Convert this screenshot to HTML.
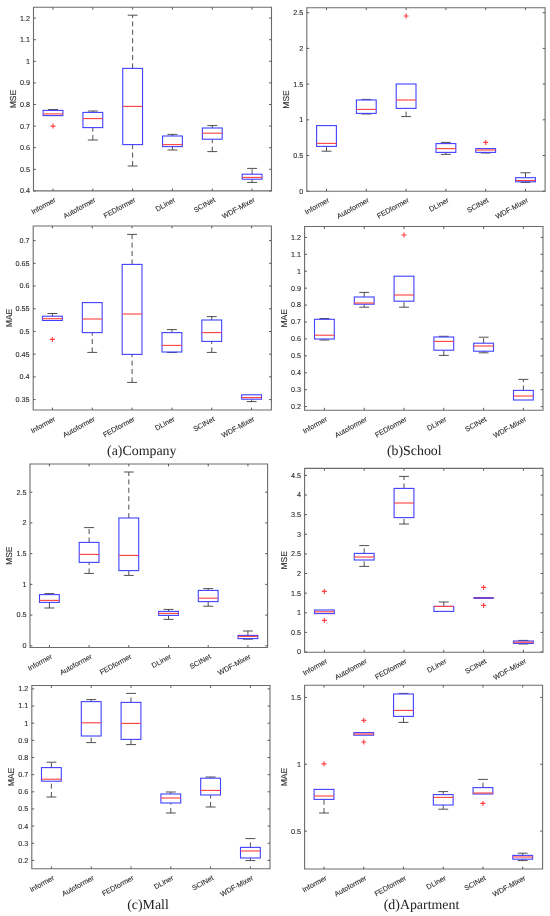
<!DOCTYPE html>
<html><head><meta charset="utf-8"><title>Boxplots</title>
<style>
html,body{margin:0;padding:0;background:#fff;}
body{width:550px;height:916px;overflow:hidden;}
svg{display:block;}
.ax{fill:none;stroke:#6c6c6c;stroke-width:1.1;}
.tk{fill:none;stroke:#5a5a5a;stroke-width:1;}
text{text-rendering:geometricPrecision;font-family:"Liberation Sans",Arial,sans-serif;fill:#2a2a2a;}
.yt{font-size:7.2px;text-anchor:end;stroke:#2a2a2a;stroke-width:0.1px;}
.xt{font-size:7.2px;text-anchor:end;stroke:#2a2a2a;stroke-width:0.1px;}
.yl{font-size:8.5px;text-anchor:middle;stroke:#2a2a2a;stroke-width:0.1px;}
.cap{font-family:"Liberation Serif","Times New Roman",serif;font-size:13.9px;text-anchor:middle;fill:#222;}
.wh{fill:none;stroke:#474747;stroke-width:0.95;stroke-dasharray:5 3.4;}
.cp{fill:none;stroke:#474747;stroke-width:0.95;}
.bx{fill:none;stroke:#4040ff;stroke-width:1.1;}
.md{fill:none;stroke:#ff4040;stroke-width:1.1;}
.ol{fill:none;stroke:#ff4040;stroke-width:1.15;}
</style></head>
<body><svg width="550" height="916" viewBox="0 0 550 916">
<rect width="550" height="916" fill="#fff"/>
<path class="ax" d="M33.5 7.3H271.5V190.9H33.5Z"/>
<path class="tk" d="M53 190.9v-2.4M53 7.3v2.4M92.82 190.9v-2.4M92.82 7.3v2.4M132.64 190.9v-2.4M132.64 7.3v2.4M172.46 190.9v-2.4M172.46 7.3v2.4M212.28 190.9v-2.4M212.28 7.3v2.4M252.1 190.9v-2.4M252.1 7.3v2.4M33.5 190.9h2.4M271.5 190.9h-2.4M33.5 169.3h2.4M271.5 169.3h-2.4M33.5 147.7h2.4M271.5 147.7h-2.4M33.5 126.1h2.4M271.5 126.1h-2.4M33.5 104.5h2.4M271.5 104.5h-2.4M33.5 82.9h2.4M271.5 82.9h-2.4M33.5 61.3h2.4M271.5 61.3h-2.4M33.5 39.7h2.4M271.5 39.7h-2.4M33.5 18.1h2.4M271.5 18.1h-2.4"/>
<text class="yt" x="29.9" y="193.3">0.4</text>
<text class="yt" x="29.9" y="171.7">0.5</text>
<text class="yt" x="29.9" y="150.1">0.6</text>
<text class="yt" x="29.9" y="128.5">0.7</text>
<text class="yt" x="29.9" y="106.9">0.8</text>
<text class="yt" x="29.9" y="85.3">0.9</text>
<text class="yt" x="29.9" y="63.7">1</text>
<text class="yt" x="29.9" y="42.1">1.1</text>
<text class="yt" x="29.9" y="20.5">1.2</text>
<text class="yl" transform="translate(16.1 99.1) rotate(-90)">MSE</text>
<text class="xt" transform="translate(56.4 201.4) rotate(-29)">Informer</text>
<text class="xt" transform="translate(96.22 201.4) rotate(-29)">Autoformer</text>
<text class="xt" transform="translate(136.04 201.4) rotate(-29)">FEDformer</text>
<text class="xt" transform="translate(175.86 201.4) rotate(-29)">DLiner</text>
<text class="xt" transform="translate(215.68 201.4) rotate(-29)">SCINet</text>
<text class="xt" transform="translate(255.5 201.4) rotate(-29)">WDF-Mixer</text>
<path class="wh" d="M53 110.4V109.5"/>
<path class="cp" d="M48.05 109.5h9.9"/>
<rect class="bx" x="43.1" y="110.4" width="19.8" height="5.2"/>
<path class="md" d="M43.1 113.9h19.8"/>
<path class="ol" d="M50.5 126.1h5M53 123.6v5"/>
<path class="wh" d="M92.82 112.4V111"/>
<path class="wh" d="M92.82 140V127.6"/>
<path class="cp" d="M87.87 111h9.9"/>
<path class="cp" d="M87.87 140h9.9"/>
<rect class="bx" x="82.92" y="112.4" width="19.8" height="15.2"/>
<path class="md" d="M82.92 118.6h19.8"/>
<path class="wh" d="M132.64 68.4V15.2"/>
<path class="wh" d="M132.64 166V144.6"/>
<path class="cp" d="M127.69 15.2h9.9"/>
<path class="cp" d="M127.69 166h9.9"/>
<rect class="bx" x="122.74" y="68.4" width="19.8" height="76.2"/>
<path class="md" d="M122.74 106.4h19.8"/>
<path class="wh" d="M172.46 136V134.4"/>
<path class="wh" d="M172.46 150V146.6"/>
<path class="cp" d="M167.51 134.4h9.9"/>
<path class="cp" d="M167.51 150h9.9"/>
<rect class="bx" x="162.56" y="136" width="19.8" height="10.6"/>
<path class="md" d="M162.56 144.6h19.8"/>
<path class="wh" d="M212.28 128V125.6"/>
<path class="wh" d="M212.28 151.6V139.2"/>
<path class="cp" d="M207.33 125.6h9.9"/>
<path class="cp" d="M207.33 151.6h9.9"/>
<rect class="bx" x="202.38" y="128" width="19.8" height="11.2"/>
<path class="md" d="M202.38 133.2h19.8"/>
<path class="wh" d="M252.1 174.2V168.4"/>
<path class="wh" d="M252.1 182.4V179.2"/>
<path class="cp" d="M247.15 168.4h9.9"/>
<path class="cp" d="M247.15 182.4h9.9"/>
<rect class="bx" x="242.2" y="174.2" width="19.8" height="5"/>
<path class="md" d="M242.2 177.4h19.8"/>
<path class="ax" d="M306.8 7.7H545.1V191.2H306.8Z"/>
<path class="tk" d="M326.5 191.2v-2.4M326.5 7.7v2.4M366.3 191.2v-2.4M366.3 7.7v2.4M406.1 191.2v-2.4M406.1 7.7v2.4M445.9 191.2v-2.4M445.9 7.7v2.4M485.7 191.2v-2.4M485.7 7.7v2.4M525.5 191.2v-2.4M525.5 7.7v2.4M306.8 191.2h2.4M545.1 191.2h-2.4M306.8 155.5h2.4M545.1 155.5h-2.4M306.8 119.8h2.4M545.1 119.8h-2.4M306.8 84.1h2.4M545.1 84.1h-2.4M306.8 48.4h2.4M545.1 48.4h-2.4M306.8 12.7h2.4M545.1 12.7h-2.4"/>
<text class="yt" x="303.2" y="193.6">0</text>
<text class="yt" x="303.2" y="157.9">0.5</text>
<text class="yt" x="303.2" y="122.2">1</text>
<text class="yt" x="303.2" y="86.5">1.5</text>
<text class="yt" x="303.2" y="50.8">2</text>
<text class="yt" x="303.2" y="15.1">2.5</text>
<text class="yl" transform="translate(289.4 99.45) rotate(-90)">MSE</text>
<text class="xt" transform="translate(329.9 201.7) rotate(-29)">Informer</text>
<text class="xt" transform="translate(369.7 201.7) rotate(-29)">Autoformer</text>
<text class="xt" transform="translate(409.5 201.7) rotate(-29)">FEDformer</text>
<text class="xt" transform="translate(449.3 201.7) rotate(-29)">DLiner</text>
<text class="xt" transform="translate(489.1 201.7) rotate(-29)">SCINet</text>
<text class="xt" transform="translate(528.9 201.7) rotate(-29)">WDF-Mixer</text>
<path class="wh" d="M326.5 151.2V146.4"/>
<path class="cp" d="M321.55 151.2h9.9"/>
<rect class="bx" x="316.6" y="125.6" width="19.8" height="20.8"/>
<path class="md" d="M316.6 143.4h19.8"/>
<path class="wh" d="M366.3 100V99.4"/>
<path class="wh" d="M366.3 114V113.4"/>
<path class="cp" d="M361.35 99.4h9.9"/>
<path class="cp" d="M361.35 114h9.9"/>
<rect class="bx" x="356.4" y="100" width="19.8" height="13.4"/>
<path class="md" d="M356.4 109.4h19.8"/>
<path class="wh" d="M406.1 116.6V108.4"/>
<path class="cp" d="M401.15 116.6h9.9"/>
<rect class="bx" x="396.2" y="84" width="19.8" height="24.4"/>
<path class="md" d="M396.2 100h19.8"/>
<path class="ol" d="M403.6 16h5M406.1 13.5v5"/>
<path class="wh" d="M445.9 143.6V142.4"/>
<path class="wh" d="M445.9 154.4V152.4"/>
<path class="cp" d="M440.95 142.4h9.9"/>
<path class="cp" d="M440.95 154.4h9.9"/>
<rect class="bx" x="436" y="143.6" width="19.8" height="8.8"/>
<path class="md" d="M436 148.6h19.8"/>
<path class="wh" d="M485.7 153V152.4"/>
<path class="cp" d="M480.75 153h9.9"/>
<rect class="bx" x="475.8" y="148.6" width="19.8" height="3.8"/>
<path class="md" d="M475.8 150h19.8"/>
<path class="ol" d="M483.2 142.4h5M485.7 139.9v5"/>
<path class="wh" d="M525.5 177.7V172.8"/>
<path class="wh" d="M525.5 182.4V181.8"/>
<path class="cp" d="M520.55 172.8h9.9"/>
<path class="cp" d="M520.55 182.4h9.9"/>
<rect class="bx" x="515.6" y="177.7" width="19.8" height="4.1"/>
<path class="md" d="M515.6 180.5h19.8"/>
<path class="ax" d="M33.2 226H271.4V410H33.2Z"/>
<path class="tk" d="M52.4 410v-2.4M52.4 226v2.4M92.24 410v-2.4M92.24 226v2.4M132.08 410v-2.4M132.08 226v2.4M171.92 410v-2.4M171.92 226v2.4M211.76 410v-2.4M211.76 226v2.4M251.6 410v-2.4M251.6 226v2.4M33.2 399.6h2.4M271.4 399.6h-2.4M33.2 376.89h2.4M271.4 376.89h-2.4M33.2 354.17h2.4M271.4 354.17h-2.4M33.2 331.46h2.4M271.4 331.46h-2.4M33.2 308.74h2.4M271.4 308.74h-2.4M33.2 286.03h2.4M271.4 286.03h-2.4M33.2 263.31h2.4M271.4 263.31h-2.4M33.2 240.6h2.4M271.4 240.6h-2.4"/>
<text class="yt" x="29.6" y="402">0.35</text>
<text class="yt" x="29.6" y="379.29">0.4</text>
<text class="yt" x="29.6" y="356.57">0.45</text>
<text class="yt" x="29.6" y="333.86">0.5</text>
<text class="yt" x="29.6" y="311.14">0.55</text>
<text class="yt" x="29.6" y="288.43">0.6</text>
<text class="yt" x="29.6" y="265.71">0.65</text>
<text class="yt" x="29.6" y="243">0.7</text>
<text class="yl" transform="translate(11.7 318) rotate(-90)">MAE</text>
<text class="xt" transform="translate(55.8 420.5) rotate(-29)">Informer</text>
<text class="xt" transform="translate(95.64 420.5) rotate(-29)">Autoformer</text>
<text class="xt" transform="translate(135.48 420.5) rotate(-29)">FEDformer</text>
<text class="xt" transform="translate(175.32 420.5) rotate(-29)">DLiner</text>
<text class="xt" transform="translate(215.16 420.5) rotate(-29)">SCINet</text>
<text class="xt" transform="translate(255 420.5) rotate(-29)">WDF-Mixer</text>
<path class="wh" d="M52.4 316.2V313.5"/>
<path class="cp" d="M47.45 313.5h9.9"/>
<rect class="bx" x="42.5" y="316.2" width="19.8" height="4.3"/>
<path class="md" d="M42.5 318.7h19.8"/>
<path class="ol" d="M49.9 339.4h5M52.4 336.9v5"/>
<path class="wh" d="M92.24 352.4V332.6"/>
<path class="cp" d="M87.29 352.4h9.9"/>
<rect class="bx" x="82.34" y="302.6" width="19.8" height="30"/>
<path class="md" d="M82.34 319h19.8"/>
<path class="wh" d="M132.08 264.4V234.4"/>
<path class="wh" d="M132.08 382.4V354.4"/>
<path class="cp" d="M127.13 234.4h9.9"/>
<path class="cp" d="M127.13 382.4h9.9"/>
<rect class="bx" x="122.18" y="264.4" width="19.8" height="90"/>
<path class="md" d="M122.18 314h19.8"/>
<path class="wh" d="M171.92 332.6V329.6"/>
<path class="wh" d="M171.92 352.5V352"/>
<path class="cp" d="M166.97 329.6h9.9"/>
<path class="cp" d="M166.97 352.5h9.9"/>
<rect class="bx" x="162.02" y="332.6" width="19.8" height="19.4"/>
<path class="md" d="M162.02 345.4h19.8"/>
<path class="wh" d="M211.76 320V316.6"/>
<path class="wh" d="M211.76 352.4V341.4"/>
<path class="cp" d="M206.81 316.6h9.9"/>
<path class="cp" d="M206.81 352.4h9.9"/>
<rect class="bx" x="201.86" y="320" width="19.8" height="21.4"/>
<path class="md" d="M201.86 332.6h19.8"/>
<path class="wh" d="M251.6 401.6V399.2"/>
<path class="cp" d="M246.65 401.6h9.9"/>
<rect class="bx" x="241.7" y="394.8" width="19.8" height="4.4"/>
<path class="md" d="M241.7 397.6h19.8"/>
<path class="ax" d="M304.6 226.5H543V410.2H304.6Z"/>
<path class="tk" d="M324.4 410.2v-2.4M324.4 226.5v2.4M364.2 410.2v-2.4M364.2 226.5v2.4M404 410.2v-2.4M404 226.5v2.4M443.8 410.2v-2.4M443.8 226.5v2.4M483.6 410.2v-2.4M483.6 226.5v2.4M523.4 410.2v-2.4M523.4 226.5v2.4M304.6 406.6h2.4M543 406.6h-2.4M304.6 389.68h2.4M543 389.68h-2.4M304.6 372.76h2.4M543 372.76h-2.4M304.6 355.84h2.4M543 355.84h-2.4M304.6 338.92h2.4M543 338.92h-2.4M304.6 322h2.4M543 322h-2.4M304.6 305.08h2.4M543 305.08h-2.4M304.6 288.16h2.4M543 288.16h-2.4M304.6 271.24h2.4M543 271.24h-2.4M304.6 254.32h2.4M543 254.32h-2.4M304.6 237.4h2.4M543 237.4h-2.4"/>
<text class="yt" x="301" y="409">0.2</text>
<text class="yt" x="301" y="392.08">0.3</text>
<text class="yt" x="301" y="375.16">0.4</text>
<text class="yt" x="301" y="358.24">0.5</text>
<text class="yt" x="301" y="341.32">0.6</text>
<text class="yt" x="301" y="324.4">0.7</text>
<text class="yt" x="301" y="307.48">0.8</text>
<text class="yt" x="301" y="290.56">0.9</text>
<text class="yt" x="301" y="273.64">1</text>
<text class="yt" x="301" y="256.72">1.1</text>
<text class="yt" x="301" y="239.8">1.2</text>
<text class="yl" transform="translate(287.4 318.35) rotate(-90)">MAE</text>
<text class="xt" transform="translate(327.8 420.7) rotate(-29)">Informer</text>
<text class="xt" transform="translate(367.6 420.7) rotate(-29)">Autoformer</text>
<text class="xt" transform="translate(407.4 420.7) rotate(-29)">FEDformer</text>
<text class="xt" transform="translate(447.2 420.7) rotate(-29)">DLiner</text>
<text class="xt" transform="translate(487 420.7) rotate(-29)">SCINet</text>
<text class="xt" transform="translate(526.8 420.7) rotate(-29)">WDF-Mixer</text>
<path class="wh" d="M324.4 319.3V318.5"/>
<path class="wh" d="M324.4 340V339"/>
<path class="cp" d="M319.45 318.5h9.9"/>
<path class="cp" d="M319.45 340h9.9"/>
<rect class="bx" x="314.5" y="319.3" width="19.8" height="19.7"/>
<path class="md" d="M314.5 335.2h19.8"/>
<path class="wh" d="M364.2 297V292.4"/>
<path class="wh" d="M364.2 307.2V304.2"/>
<path class="cp" d="M359.25 292.4h9.9"/>
<path class="cp" d="M359.25 307.2h9.9"/>
<rect class="bx" x="354.3" y="297" width="19.8" height="7.2"/>
<path class="md" d="M354.3 303h19.8"/>
<path class="wh" d="M404 307.2V301.2"/>
<path class="cp" d="M399.05 307.2h9.9"/>
<rect class="bx" x="394.1" y="276.2" width="19.8" height="25"/>
<path class="md" d="M394.1 295h19.8"/>
<path class="ol" d="M401.5 235h5M404 232.5v5"/>
<path class="wh" d="M443.8 337V336.3"/>
<path class="wh" d="M443.8 355.4V350.2"/>
<path class="cp" d="M438.85 336.3h9.9"/>
<path class="cp" d="M438.85 355.4h9.9"/>
<rect class="bx" x="433.9" y="337" width="19.8" height="13.2"/>
<path class="md" d="M433.9 341.4h19.8"/>
<path class="wh" d="M483.6 343.2V337.2"/>
<path class="wh" d="M483.6 352.8V351.2"/>
<path class="cp" d="M478.65 337.2h9.9"/>
<path class="cp" d="M478.65 352.8h9.9"/>
<rect class="bx" x="473.7" y="343.2" width="19.8" height="8"/>
<path class="md" d="M473.7 346h19.8"/>
<path class="wh" d="M523.4 390.4V379.4"/>
<path class="cp" d="M518.45 379.4h9.9"/>
<rect class="bx" x="513.5" y="390.4" width="19.8" height="9.6"/>
<path class="md" d="M513.5 396h19.8"/>
<path class="ax" d="M30 464H267.6V647.5H30Z"/>
<path class="tk" d="M49.4 647.5v-2.4M49.4 464v2.4M89.1 647.5v-2.4M89.1 464v2.4M128.8 647.5v-2.4M128.8 464v2.4M168.5 647.5v-2.4M168.5 464v2.4M208.2 647.5v-2.4M208.2 464v2.4M247.9 647.5v-2.4M247.9 464v2.4M30 645.8h2.4M267.6 645.8h-2.4M30 615.08h2.4M267.6 615.08h-2.4M30 584.36h2.4M267.6 584.36h-2.4M30 553.64h2.4M267.6 553.64h-2.4M30 522.92h2.4M267.6 522.92h-2.4M30 492.2h2.4M267.6 492.2h-2.4"/>
<text class="yt" x="26.4" y="648.2">0</text>
<text class="yt" x="26.4" y="617.48">0.5</text>
<text class="yt" x="26.4" y="586.76">1</text>
<text class="yt" x="26.4" y="556.04">1.5</text>
<text class="yt" x="26.4" y="525.32">2</text>
<text class="yt" x="26.4" y="494.6">2.5</text>
<text class="yl" transform="translate(11.9 555.75) rotate(-90)">MSE</text>
<text class="xt" transform="translate(52.8 658) rotate(-29)">Informer</text>
<text class="xt" transform="translate(92.5 658) rotate(-29)">Autoformer</text>
<text class="xt" transform="translate(132.2 658) rotate(-29)">FEDformer</text>
<text class="xt" transform="translate(171.9 658) rotate(-29)">DLiner</text>
<text class="xt" transform="translate(211.6 658) rotate(-29)">SCINet</text>
<text class="xt" transform="translate(251.3 658) rotate(-29)">WDF-Mixer</text>
<path class="wh" d="M49.4 594.6V593.6"/>
<path class="wh" d="M49.4 608V602.4"/>
<path class="cp" d="M44.45 593.6h9.9"/>
<path class="cp" d="M44.45 608h9.9"/>
<rect class="bx" x="39.5" y="594.6" width="19.8" height="7.8"/>
<path class="md" d="M39.5 600.4h19.8"/>
<path class="wh" d="M89.1 542.4V527.6"/>
<path class="wh" d="M89.1 573.4V562.4"/>
<path class="cp" d="M84.15 527.6h9.9"/>
<path class="cp" d="M84.15 573.4h9.9"/>
<rect class="bx" x="79.2" y="542.4" width="19.8" height="20"/>
<path class="md" d="M79.2 554.4h19.8"/>
<path class="wh" d="M128.8 518V472"/>
<path class="wh" d="M128.8 575.4V570.6"/>
<path class="cp" d="M123.85 472h9.9"/>
<path class="cp" d="M123.85 575.4h9.9"/>
<rect class="bx" x="118.9" y="518" width="19.8" height="52.6"/>
<path class="md" d="M118.9 555.4h19.8"/>
<path class="wh" d="M168.5 611.4V609.4"/>
<path class="wh" d="M168.5 619.4V615.4"/>
<path class="cp" d="M163.55 609.4h9.9"/>
<path class="cp" d="M163.55 619.4h9.9"/>
<rect class="bx" x="158.6" y="611.4" width="19.8" height="4"/>
<path class="md" d="M158.6 613.4h19.8"/>
<path class="wh" d="M208.2 590.4V588.6"/>
<path class="wh" d="M208.2 606.2V601.6"/>
<path class="cp" d="M203.25 588.6h9.9"/>
<path class="cp" d="M203.25 606.2h9.9"/>
<rect class="bx" x="198.3" y="590.4" width="19.8" height="11.2"/>
<path class="md" d="M198.3 598.2h19.8"/>
<path class="wh" d="M247.9 635.4V631"/>
<path class="wh" d="M247.9 639.2V638.6"/>
<path class="cp" d="M242.95 631h9.9"/>
<path class="cp" d="M242.95 639.2h9.9"/>
<rect class="bx" x="238" y="635.4" width="19.8" height="3.2"/>
<path class="md" d="M238 636.4h19.8"/>
<path class="ax" d="M304.6 468.4H543V652.2H304.6Z"/>
<path class="tk" d="M324.4 652.2v-2.4M324.4 468.4v2.4M364.2 652.2v-2.4M364.2 468.4v2.4M404 652.2v-2.4M404 468.4v2.4M443.8 652.2v-2.4M443.8 468.4v2.4M483.6 652.2v-2.4M483.6 468.4v2.4M523.4 652.2v-2.4M523.4 468.4v2.4M304.6 652h2.4M543 652h-2.4M304.6 632.38h2.4M543 632.38h-2.4M304.6 612.76h2.4M543 612.76h-2.4M304.6 593.13h2.4M543 593.13h-2.4M304.6 573.51h2.4M543 573.51h-2.4M304.6 553.89h2.4M543 553.89h-2.4M304.6 534.27h2.4M543 534.27h-2.4M304.6 514.64h2.4M543 514.64h-2.4M304.6 495.02h2.4M543 495.02h-2.4M304.6 475.4h2.4M543 475.4h-2.4"/>
<text class="yt" x="301" y="654.4">0</text>
<text class="yt" x="301" y="634.78">0.5</text>
<text class="yt" x="301" y="615.16">1</text>
<text class="yt" x="301" y="595.53">1.5</text>
<text class="yt" x="301" y="575.91">2</text>
<text class="yt" x="301" y="556.29">2.5</text>
<text class="yt" x="301" y="536.67">3</text>
<text class="yt" x="301" y="517.04">3.5</text>
<text class="yt" x="301" y="497.42">4</text>
<text class="yt" x="301" y="477.8">4.5</text>
<text class="yl" transform="translate(287.4 560.3) rotate(-90)">MSE</text>
<text class="xt" transform="translate(327.8 662.7) rotate(-29)">Informer</text>
<text class="xt" transform="translate(367.6 662.7) rotate(-29)">Autoformer</text>
<text class="xt" transform="translate(407.4 662.7) rotate(-29)">FEDformer</text>
<text class="xt" transform="translate(447.2 662.7) rotate(-29)">DLiner</text>
<text class="xt" transform="translate(487 662.7) rotate(-29)">SCINet</text>
<text class="xt" transform="translate(526.8 662.7) rotate(-29)">WDF-Mixer</text>
<rect class="bx" x="314.5" y="610" width="19.8" height="3.6"/>
<path class="md" d="M314.5 611.8h19.8"/>
<path class="ol" d="M321.9 591.4h5M324.4 588.9v5"/>
<path class="ol" d="M321.9 620.4h5M324.4 617.9v5"/>
<path class="wh" d="M364.2 553.4V545.6"/>
<path class="wh" d="M364.2 566.4V560"/>
<path class="cp" d="M359.25 545.6h9.9"/>
<path class="cp" d="M359.25 566.4h9.9"/>
<rect class="bx" x="354.3" y="553.4" width="19.8" height="6.6"/>
<path class="md" d="M354.3 557h19.8"/>
<path class="wh" d="M404 488.4V476.4"/>
<path class="wh" d="M404 524V517.6"/>
<path class="cp" d="M399.05 476.4h9.9"/>
<path class="cp" d="M399.05 524h9.9"/>
<rect class="bx" x="394.1" y="488.4" width="19.8" height="29.2"/>
<path class="md" d="M394.1 503h19.8"/>
<path class="wh" d="M443.8 606.4V602"/>
<path class="cp" d="M438.85 602h9.9"/>
<rect class="bx" x="433.9" y="606.4" width="19.8" height="5"/>
<path class="md" d="M433.9 606.4h19.8"/>
<rect class="bx" x="473.7" y="598" width="19.8" height="0.01"/>
<path class="md" style="stroke:#6a22b0;stroke-width:1.4" d="M473.7 598h19.8"/>
<path class="ol" d="M481.1 587.4h5M483.6 584.9v5"/>
<path class="ol" d="M481.1 605.4h5M483.6 602.9v5"/>
<path class="wh" d="M523.4 641V640.4"/>
<path class="wh" d="M523.4 644V643.4"/>
<path class="cp" d="M518.45 640.4h9.9"/>
<path class="cp" d="M518.45 644h9.9"/>
<rect class="bx" x="513.5" y="641" width="19.8" height="2.4"/>
<path class="md" d="M513.5 642.2h19.8"/>
<path class="ax" d="M31.8 685.5H270V868.8H31.8Z"/>
<path class="tk" d="M51.4 868.8v-2.4M51.4 685.5v2.4M91.2 868.8v-2.4M91.2 685.5v2.4M131 868.8v-2.4M131 685.5v2.4M170.8 868.8v-2.4M170.8 685.5v2.4M210.6 868.8v-2.4M210.6 685.5v2.4M250.4 868.8v-2.4M250.4 685.5v2.4M31.8 860.4h2.4M270 860.4h-2.4M31.8 843.25h2.4M270 843.25h-2.4M31.8 826.1h2.4M270 826.1h-2.4M31.8 808.95h2.4M270 808.95h-2.4M31.8 791.8h2.4M270 791.8h-2.4M31.8 774.65h2.4M270 774.65h-2.4M31.8 757.5h2.4M270 757.5h-2.4M31.8 740.35h2.4M270 740.35h-2.4M31.8 723.2h2.4M270 723.2h-2.4M31.8 706.05h2.4M270 706.05h-2.4M31.8 688.9h2.4M270 688.9h-2.4"/>
<text class="yt" x="28.2" y="862.8">0.2</text>
<text class="yt" x="28.2" y="845.65">0.3</text>
<text class="yt" x="28.2" y="828.5">0.4</text>
<text class="yt" x="28.2" y="811.35">0.5</text>
<text class="yt" x="28.2" y="794.2">0.6</text>
<text class="yt" x="28.2" y="777.05">0.7</text>
<text class="yt" x="28.2" y="759.9">0.8</text>
<text class="yt" x="28.2" y="742.75">0.9</text>
<text class="yt" x="28.2" y="725.6">1</text>
<text class="yt" x="28.2" y="708.45">1.1</text>
<text class="yt" x="28.2" y="691.3">1.2</text>
<text class="yl" transform="translate(14.3 777.15) rotate(-90)">MAE</text>
<text class="xt" transform="translate(54.8 879.3) rotate(-29)">Informer</text>
<text class="xt" transform="translate(94.6 879.3) rotate(-29)">Autoformer</text>
<text class="xt" transform="translate(134.4 879.3) rotate(-29)">FEDformer</text>
<text class="xt" transform="translate(174.2 879.3) rotate(-29)">DLiner</text>
<text class="xt" transform="translate(214 879.3) rotate(-29)">SCINet</text>
<text class="xt" transform="translate(253.8 879.3) rotate(-29)">WDF-Mixer</text>
<path class="wh" d="M51.4 767.6V762.2"/>
<path class="wh" d="M51.4 797V781.2"/>
<path class="cp" d="M46.45 762.2h9.9"/>
<path class="cp" d="M46.45 797h9.9"/>
<rect class="bx" x="41.5" y="767.6" width="19.8" height="13.6"/>
<path class="md" d="M41.5 779.2h19.8"/>
<path class="wh" d="M91.2 701.6V699.6"/>
<path class="wh" d="M91.2 742.6V736"/>
<path class="cp" d="M86.25 699.6h9.9"/>
<path class="cp" d="M86.25 742.6h9.9"/>
<rect class="bx" x="81.3" y="701.6" width="19.8" height="34.4"/>
<path class="md" d="M81.3 722.8h19.8"/>
<path class="wh" d="M131 702.4V693.4"/>
<path class="wh" d="M131 744.6V739.4"/>
<path class="cp" d="M126.05 693.4h9.9"/>
<path class="cp" d="M126.05 744.6h9.9"/>
<rect class="bx" x="121.1" y="702.4" width="19.8" height="37"/>
<path class="md" d="M121.1 723.4h19.8"/>
<path class="wh" d="M170.8 794V792"/>
<path class="wh" d="M170.8 813V803"/>
<path class="cp" d="M165.85 792h9.9"/>
<path class="cp" d="M165.85 813h9.9"/>
<rect class="bx" x="160.9" y="794" width="19.8" height="9"/>
<path class="md" d="M160.9 798h19.8"/>
<path class="wh" d="M210.6 778.2V777"/>
<path class="wh" d="M210.6 807V795"/>
<path class="cp" d="M205.65 777h9.9"/>
<path class="cp" d="M205.65 807h9.9"/>
<rect class="bx" x="200.7" y="778.2" width="19.8" height="16.8"/>
<path class="md" d="M200.7 790.4h19.8"/>
<path class="wh" d="M250.4 847.4V838.6"/>
<path class="wh" d="M250.4 860.6V858"/>
<path class="cp" d="M245.45 838.6h9.9"/>
<path class="cp" d="M245.45 860.6h9.9"/>
<rect class="bx" x="240.5" y="847.4" width="19.8" height="10.6"/>
<path class="md" d="M240.5 851h19.8"/>
<path class="ax" d="M304.6 685.2H542.6V869H304.6Z"/>
<path class="tk" d="M324 869v-2.4M324 685.2v2.4M363.74 869v-2.4M363.74 685.2v2.4M403.48 869v-2.4M403.48 685.2v2.4M443.22 869v-2.4M443.22 685.2v2.4M482.96 869v-2.4M482.96 685.2v2.4M522.7 869v-2.4M522.7 685.2v2.4M304.6 831.1h2.4M542.6 831.1h-2.4M304.6 764.25h2.4M542.6 764.25h-2.4M304.6 697.4h2.4M542.6 697.4h-2.4"/>
<text class="yt" x="301" y="833.5">0.5</text>
<text class="yt" x="301" y="766.65">1</text>
<text class="yt" x="301" y="699.8">1.5</text>
<text class="yl" transform="translate(286.8 777.1) rotate(-90)">MAE</text>
<text class="xt" transform="translate(327.4 879.5) rotate(-29)">Informer</text>
<text class="xt" transform="translate(367.14 879.5) rotate(-29)">Autoformer</text>
<text class="xt" transform="translate(406.88 879.5) rotate(-29)">FEDformer</text>
<text class="xt" transform="translate(446.62 879.5) rotate(-29)">DLiner</text>
<text class="xt" transform="translate(486.36 879.5) rotate(-29)">SCINet</text>
<text class="xt" transform="translate(526.1 879.5) rotate(-29)">WDF-Mixer</text>
<path class="wh" d="M324 813V799.4"/>
<path class="cp" d="M319.05 813h9.9"/>
<rect class="bx" x="314.1" y="789.4" width="19.8" height="10"/>
<path class="md" d="M314.1 796h19.8"/>
<path class="ol" d="M321.5 763.8h5M324 761.3v5"/>
<rect class="bx" x="353.84" y="732.6" width="19.8" height="2.6"/>
<path class="md" d="M353.84 734h19.8"/>
<path class="ol" d="M361.24 720.4h5M363.74 717.9v5"/>
<path class="ol" d="M361.24 742h5M363.74 739.5v5"/>
<path class="wh" d="M403.48 694V693.4"/>
<path class="wh" d="M403.48 722.4V716.4"/>
<path class="cp" d="M398.53 693.4h9.9"/>
<path class="cp" d="M398.53 722.4h9.9"/>
<rect class="bx" x="393.58" y="694" width="19.8" height="22.4"/>
<path class="md" d="M393.58 710.4h19.8"/>
<path class="wh" d="M443.22 794.6V791.6"/>
<path class="wh" d="M443.22 809.2V805"/>
<path class="cp" d="M438.27 791.6h9.9"/>
<path class="cp" d="M438.27 809.2h9.9"/>
<rect class="bx" x="433.32" y="794.6" width="19.8" height="10.4"/>
<path class="md" d="M433.32 797.4h19.8"/>
<path class="wh" d="M482.96 787.6V779.4"/>
<path class="cp" d="M478.01 779.4h9.9"/>
<rect class="bx" x="473.06" y="787.6" width="19.8" height="6.4"/>
<path class="md" d="M473.06 793h19.8"/>
<path class="ol" d="M480.46 803.4h5M482.96 800.9v5"/>
<path class="wh" d="M522.7 855.4V853.2"/>
<path class="wh" d="M522.7 860.6V859.2"/>
<path class="cp" d="M517.75 853.2h9.9"/>
<path class="cp" d="M517.75 860.6h9.9"/>
<rect class="bx" x="512.8" y="855.4" width="19.8" height="3.8"/>
<path class="md" d="M512.8 857h19.8"/>
<text class="cap" x="141.8" y="454.8">(a)Company</text>
<text class="cap" x="414.3" y="454.6">(b)School</text>
<text class="cap" x="148" y="908.7">(c)Mall</text>
<text class="cap" x="421.5" y="908.9">(d)Apartment</text>
</svg></body></html>
